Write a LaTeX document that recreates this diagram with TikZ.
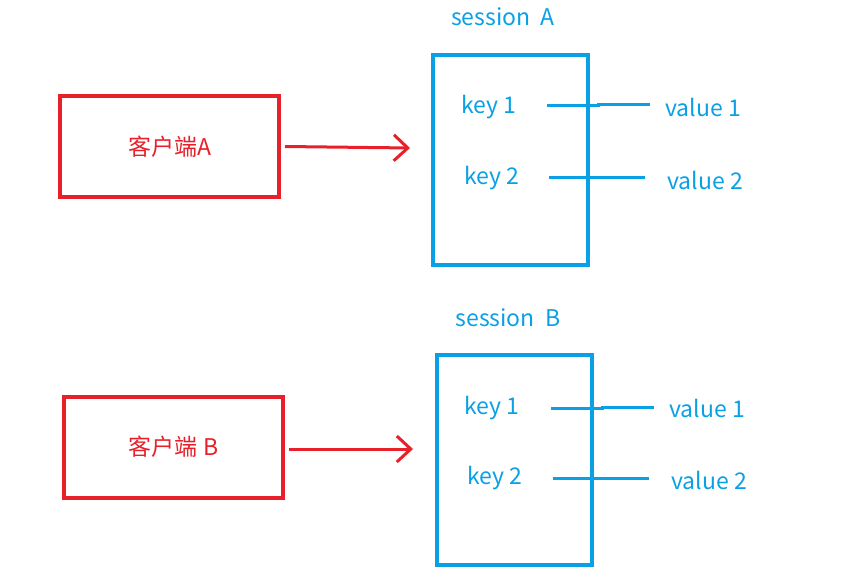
\documentclass[tikz,border=0pt]{standalone}
\usepackage{fontspec}
\setmainfont{Noto Sans CJK SC}
\usetikzlibrary{arrows.meta,positioning}
\definecolor{cred}{HTML}{E8202A}
\definecolor{cblue}{HTML}{0AA0E6}
\begin{document}
\begin{tikzpicture}[x=1pt,y=-1pt]
\tikzstyle{every node}=[font=\fontsize{23}{27}\selectfont]
\tikzstyle{client}=[draw=cred,line width=4pt,minimum width=219pt,minimum height=101pt,text=cred]
\tikzstyle{store}=[draw=cblue,line width=4pt,minimum width=155pt,minimum height=210pt]
\tikzstyle{txt}=[text=cblue]
\tikzstyle{link}=[draw=cblue,line width=3pt]
\tikzstyle{send}=[draw=cred,line width=3pt,-{Straight Barb[length=14pt,width=26pt,line width=3pt]}]
\useasboundingbox (0,0) rectangle (866,585);

% client A
\node[client] (CA) at (169.5,146.5) {客户端A};
\node[store] (SA) at (510.5,160) {};
\node[txt] at (503,17) {session\ \ A};
\node[txt] (KA1) at (489,107) {key 1};
\node[txt] (KA2) at (492,178) {key 2};
\node[txt] (VA1) at (703,107) {value 1};
\node[txt] (VA2) at (705,180) {value 2};
\coordinate (a) at (410,148);
\draw[send] (CA.east) ++(4,0) coordinate (ca) (ca) -- (a);
\coordinate (la1) at (547,106);
\coordinate (ma1) at (598,106);
\coordinate (ra1) at (650,105);
\draw[link] (la1) -- (ma1) |- (ra1);
\coordinate (la2) at (549,178);
\coordinate (ra2) at (645,178);
\draw[link] (la2) -- (ra2);

% client B
\node[client] (CB) at (173.5,447) {客户端 B};
\node[store] (SB) at (514.5,460) {};
\node[txt] at (508,318) {session\ \ B};
\node[txt] (KB1) at (492,408) {key 1};
\node[txt] (KB2) at (495,478) {key 2};
\node[txt] (VB1) at (707,408) {value 1};
\node[txt] (VB2) at (709,480) {value 2};
\coordinate (b) at (413,449);
\draw[send] (CB.east) ++(4,2) coordinate (cb) (cb) -- (b);
\coordinate (lb1) at (551,408);
\coordinate (mb1) at (602,408);
\coordinate (rb1) at (654,407);
\draw[link] (lb1) -- (mb1) |- (rb1);
\coordinate (lb2) at (553,478);
\coordinate (rb2) at (649,478);
\draw[link] (lb2) -- (rb2);
\end{tikzpicture}
\end{document}
